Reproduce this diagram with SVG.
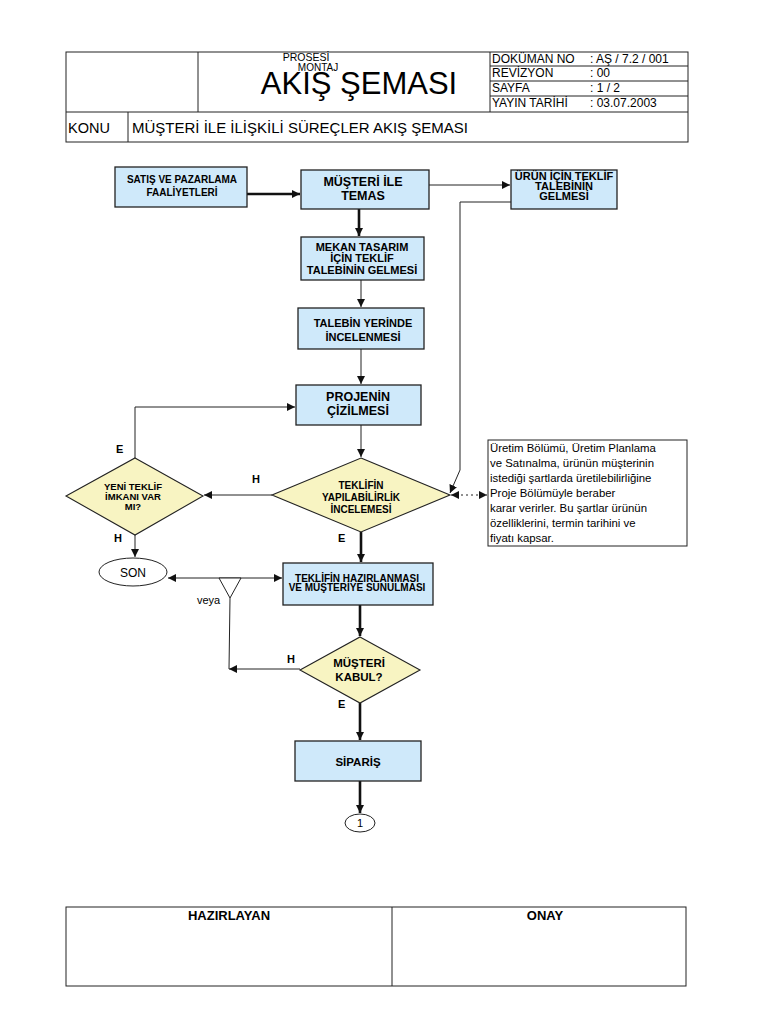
<svg xmlns="http://www.w3.org/2000/svg" width="768" height="1024" viewBox="0 0 768 1024">
<style>
.t{font-family:"Liberation Sans",Arial,sans-serif;fill:#000}
.b{font-weight:bold}
.box{fill:#cfe9fa;stroke:#222;stroke-width:1.3}
.dia{fill:#f8f4c2;stroke:#222;stroke-width:1.1}
.ln{fill:none;stroke:#222;stroke-width:1}
.tk{fill:none;stroke:#111;stroke-width:2.6}
.tbl{fill:none;stroke:#222;stroke-width:1}
</style>
<defs>
<marker id="a" viewBox="0 0 10 10" refX="10" refY="5" markerWidth="8" markerHeight="8" markerUnits="userSpaceOnUse" orient="auto-start-reverse"><path d="M0,0L10,5L0,10z" fill="#111"/></marker>
</defs>
<rect width="768" height="1024" fill="#fff"/>
<g id="header">
<rect class="tbl" x="66" y="52" width="622" height="90"/>
<line class="tbl" x1="66" y1="112" x2="688" y2="112"/>
<line class="tbl" x1="198" y1="52" x2="198" y2="112"/>
<line class="tbl" x1="490" y1="52" x2="490" y2="112"/>
<line class="tbl" x1="490" y1="66" x2="688" y2="66"/>
<line class="tbl" x1="490" y1="81" x2="688" y2="81"/>
<line class="tbl" x1="490" y1="96" x2="688" y2="96"/>
<line class="tbl" x1="128" y1="112" x2="128" y2="142"/>
<text class="t" x="306" y="61" font-size="10.5" text-anchor="middle">PROSESİ</text>
<text class="t" x="318" y="71" font-size="10" text-anchor="middle">MONTAJ</text>
<text class="t" x="359" y="94" font-size="31" text-anchor="middle">AKIŞ ŞEMASI</text>
<text class="t" x="492" y="63" font-size="12">DOKÜMAN NO</text>
<text class="t" x="590" y="63" font-size="12">: AŞ / 7.2 / 001</text>
<text class="t" x="492" y="77" font-size="12">REVİZYON</text>
<text class="t" x="590" y="77" font-size="12">: 00</text>
<text class="t" x="492" y="92" font-size="12">SAYFA</text>
<text class="t" x="590" y="92" font-size="12">: 1 / 2</text>
<text class="t" x="492" y="107" font-size="12">YAYIN TARİHİ</text>
<text class="t" x="590" y="107" font-size="12">: 03.07.2003</text>
<text class="t" x="68" y="133" font-size="14.5">KONU</text>
<text class="t" x="132" y="133" font-size="15">MÜŞTERİ İLE İLİŞKİLİ SÜREÇLER AKIŞ ŞEMASI</text>
</g>
<g id="connectors">
<line class="tk" x1="247" y1="194" x2="300" y2="194" marker-end="url(#a)"/>
<line class="ln" x1="429" y1="185" x2="510" y2="185" marker-end="url(#a)"/>
<line class="tk" x1="359" y1="209" x2="359" y2="236" marker-end="url(#a)"/>
<polyline class="ln" points="511,202 460,202 460,470 450,493" marker-end="url(#a)"/>
<line class="ln" x1="361" y1="280" x2="361" y2="307" marker-end="url(#a)"/>
<line class="ln" x1="361" y1="349" x2="361" y2="384" marker-end="url(#a)"/>
<line class="ln" x1="361" y1="425" x2="361" y2="457" marker-end="url(#a)"/>
<line class="ln" x1="272" y1="495" x2="204" y2="495" marker-end="url(#a)"/>
<polyline class="ln" points="135,458 135,407 295,407" marker-end="url(#a)"/>
<line class="ln" x1="135" y1="535" x2="135" y2="557" marker-end="url(#a)"/>
<line class="tk" x1="361" y1="532" x2="361" y2="562" marker-end="url(#a)"/>
<line class="ln" stroke-dasharray="2,3" x1="451" y1="495" x2="487" y2="495" marker-start="url(#a)" marker-end="url(#a)"/>
<line class="ln" x1="168" y1="578" x2="282" y2="578" marker-start="url(#a)" marker-end="url(#a)"/>
<line class="tk" x1="360" y1="605" x2="360" y2="636" marker-end="url(#a)"/>
<line class="ln" x1="300" y1="669" x2="229" y2="669" marker-end="url(#a)"/>
<line class="ln" x1="229" y1="669" x2="230" y2="598"/>
<line class="tk" x1="360" y1="703" x2="360" y2="740" marker-end="url(#a)"/>
<line class="tk" x1="360" y1="781" x2="360" y2="813" marker-end="url(#a)"/>
<text class="t b" x="252" y="483" font-size="11">H</text>
<text class="t b" x="116" y="453" font-size="11">E</text>
<text class="t b" x="114" y="542" font-size="11">H</text>
<text class="t b" x="338" y="542" font-size="11">E</text>
<text class="t b" x="287" y="663" font-size="11">H</text>
<text class="t b" x="338" y="708" font-size="11">E</text>
<text class="t" x="197" y="604" font-size="11">veya</text>
</g>
<g id="satis">
<rect class="box" x="115" y="167" width="132" height="40"/>
<text class="t b" x="182" y="183" font-size="10" text-anchor="middle">SATIŞ  VE PAZARLAMA</text>
<text class="t b" x="182" y="196" font-size="10" text-anchor="middle">FAALİYETLERİ</text>
</g>
<g id="temas">
<rect class="box" x="301" y="170" width="128" height="39"/>
<text class="t b" x="363" y="186" font-size="12.5" text-anchor="middle">MÜŞTERİ İLE</text>
<text class="t b" x="363" y="200" font-size="12.5" text-anchor="middle">TEMAS</text>
</g>
<g id="urun">
<rect class="box" x="511" y="170" width="106" height="39"/>
<text class="t b" x="564" y="180" font-size="11" text-anchor="middle">ÜRÜN İÇİN TEKLİF</text>
<text class="t b" x="564" y="190" font-size="11" text-anchor="middle">TALEBİNİN</text>
<text class="t b" x="564" y="200" font-size="11" text-anchor="middle">GELMESİ</text>
</g>
<g id="mekan">
<rect class="box" x="301" y="237" width="123" height="43"/>
<text class="t b" x="362" y="251" font-size="11" text-anchor="middle">MEKAN TASARIM</text>
<text class="t b" x="362" y="262" font-size="11" text-anchor="middle">İÇİN TEKLİF</text>
<text class="t b" x="362" y="274" font-size="11" text-anchor="middle">TALEBİNİN GELMESİ</text>
</g>
<g id="yerinde">
<rect class="box" x="298" y="308" width="126" height="41"/>
<text class="t b" x="363" y="327" font-size="11" text-anchor="middle">TALEBİN YERİNDE</text>
<text class="t b" x="363" y="341" font-size="11" text-anchor="middle">İNCELENMESİ</text>
</g>
<g id="projenin">
<rect class="box" x="296" y="385" width="125" height="40"/>
<text class="t b" x="358" y="401" font-size="12.5" text-anchor="middle">PROJENİN</text>
<text class="t b" x="358" y="415" font-size="12.5" text-anchor="middle">ÇİZİLMESİ</text>
</g>
<g id="yapilabilirlik">
<polygon class="dia" points="361,458 450,495 361,532 272,495"/>
<text class="t b" x="361" y="489" font-size="10" text-anchor="middle">TEKLİFİN</text>
<text class="t b" x="361" y="501" font-size="10" text-anchor="middle">YAPILABİLİRLİK</text>
<text class="t b" x="361" y="513" font-size="10" text-anchor="middle">İNCELEMESİ</text>
</g>
<g id="yeni">
<polygon class="dia" points="135,458 203,496 135,535 66,496"/>
<text class="t b" x="133" y="490" font-size="9.5" text-anchor="middle">YENİ TEKLİF</text>
<text class="t b" x="133" y="500" font-size="9.5" text-anchor="middle">İMKANI VAR</text>
<text class="t b" x="133" y="510" font-size="9.5" text-anchor="middle">MI?</text>
</g>
<g id="not">
<rect x="488" y="440" width="199" height="106" fill="#fff" stroke="#222" stroke-width="1"/>
<text class="t" x="490" y="452" font-size="11.4">Üretim Bölümü, Üretim Planlama</text>
<text class="t" x="490" y="467" font-size="11.4">ve Satınalma, ürünün müşterinin</text>
<text class="t" x="490" y="482" font-size="11.4">istediği şartlarda üretilebilirliğine</text>
<text class="t" x="490" y="497" font-size="11.4">Proje Bölümüyle beraber</text>
<text class="t" x="490" y="512" font-size="11.4">karar verirler. Bu şartlar ürünün</text>
<text class="t" x="490" y="527" font-size="11.4">özelliklerini, termin tarihini ve</text>
<text class="t" x="490" y="542" font-size="11.4">fiyatı kapsar.</text>
</g>
<g id="son">
<ellipse cx="133" cy="572" rx="34" ry="14" fill="#fff" stroke="#222" stroke-width="1"/>
<text class="t" x="133" y="577" font-size="12" text-anchor="middle">SON</text>
</g>
<g id="veya">
<polygon points="219,578 241,578 230,598" fill="#fff" stroke="#222" stroke-width="1"/>
</g>
<g id="hazirlanma">
<rect class="box" x="283" y="563" width="150" height="42"/>
<text class="t b" x="357" y="582" font-size="10" text-anchor="middle">TEKLİFİN HAZIRLANMASI</text>
<text class="t b" x="357" y="591" font-size="10" text-anchor="middle">VE MÜŞTERİYE SUNULMASI</text>
</g>
<g id="kabul">
<polygon class="dia" points="360,637 420,670 360,703 300,670"/>
<text class="t b" x="359" y="667" font-size="11.5" text-anchor="middle">MÜŞTERİ</text>
<text class="t b" x="359" y="681" font-size="11.5" text-anchor="middle">KABUL?</text>
</g>
<g id="siparis">
<rect class="box" x="295" y="741" width="126" height="40"/>
<text class="t b" x="358" y="766" font-size="11.5" text-anchor="middle">SİPARİŞ</text>
</g>
<g id="bir">
<ellipse cx="360" cy="823" rx="15" ry="9" fill="#fff" stroke="#222" stroke-width="1"/>
<text class="t" x="360" y="827" font-size="11" text-anchor="middle">1</text>
</g>
<g id="footer">
<rect class="tbl" x="66" y="907" width="620" height="79"/>
<line class="tbl" x1="392" y1="907" x2="392" y2="986"/>
<text class="t b" x="229" y="920" font-size="13" text-anchor="middle">HAZIRLAYAN</text>
<text class="t b" x="545" y="920" font-size="13" text-anchor="middle">ONAY</text>
</g>
</svg>
